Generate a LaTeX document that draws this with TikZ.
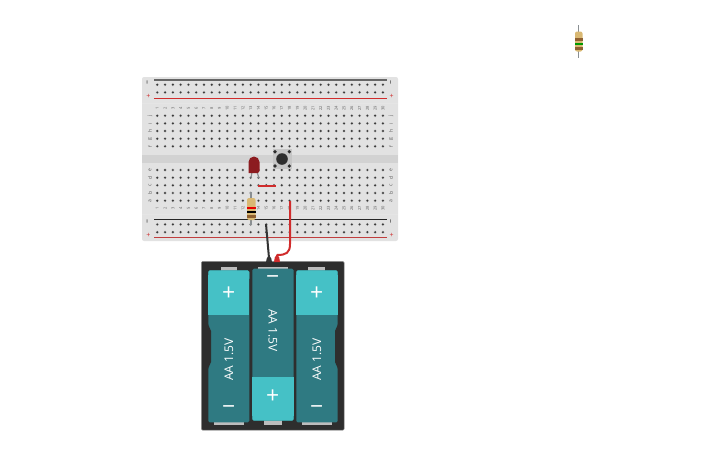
\documentclass[tikz,border=0pt]{standalone}
\usepackage{xcolor}
\usepackage{fontspec}
\setmainfont{Open Sans}
\definecolor{boardgray}{HTML}{E2E2E2}
\definecolor{gapgray}{HTML}{D2D2D2}
\definecolor{holedark}{HTML}{3A3A3A}
\definecolor{holering}{HTML}{C4C4C4}
\definecolor{railred}{HTML}{D02C2C}
\definecolor{cellteal}{HTML}{2F7A82}
\definecolor{capteal}{HTML}{45C1C6}
\definecolor{holderdark}{HTML}{2E2E2E}
\definecolor{metalgray}{HTML}{BDBDBD}
\definecolor{bodytan}{HTML}{D9B873}
\definecolor{leadgray}{HTML}{8A8F92}
\definecolor{ledred}{HTML}{8C1C20}
\tikzset{
  tinylabel/.style={text=black!65,font=\fontsize{4}{4}\selectfont,rotate=90,inner sep=0pt},
  celltext/.style={text=white,font=\fontsize{12}{12}\selectfont,inner sep=0pt},
  signtext/.style={text=white,font=\fontsize{23}{23}\selectfont,inner sep=0pt},
  railsign/.style={font=\fontsize{7}{7}\selectfont,inner sep=0pt},
  lead/.style={draw=leadgray,line width=1.2pt},
}
\begin{document}
\begin{tikzpicture}[x=1pt,y=-1pt]
\useasboundingbox (0,0) rectangle (725,453);

% breadboard
\fill[boardgray,rounded corners=2pt] (142,77) rectangle (398,241);
\fill[gapgray] (142,155) rectangle (398,163);
\draw[white!90!black,line width=0.6pt] (142,103) -- (398,103);
\draw[white!90!black,line width=0.6pt] (142,214) -- (398,214);
\draw[black!60,line width=1.4pt] (154,80) -- (387,80);
\draw[railred,line width=1.2pt] (154,98.5) -- (387,98.5);
\draw[black!85,line width=1pt] (154,219.5) -- (387,219.5);
\draw[railred!80!gray,line width=1pt] (154,237.7) -- (387,237.7);

\foreach \i in {0,...,29}{
  \foreach \y in {84.7,92.4,115.7,123.4,131,138.7,146.3,170,177.7,185.3,193,200.7,224.4,232.2}{
    \fill[holering] (157.3+\i*7.78,\y) circle (1.7pt);
    \fill[holedark] (157.3+\i*7.78,\y) circle (1.1pt);
  }
}
\foreach \i in {1,...,30}{
  \node[tinylabel] (numtop\i) at (149.5+\i*7.78,108.3) {\i};
  \node[tinylabel] (numbot\i) at (149.5+\i*7.78,208.3) {\i};
}
\foreach \y/\t in {115.7/j,123.4/i,131/h,138.7/g,146.3/f,170/e,177.7/d,185.3/c,193/b,200.7/a}{
  \node[tinylabel,font=\fontsize{5}{5}\selectfont] (left\t) at (150,\y) {\t};
  \node[tinylabel,font=\fontsize{5}{5}\selectfont] (right\t) at (391,\y) {\t};
}
\foreach \x/\n in {148.3/l,391.7/r}{
  \node[railsign,text=black,rotate=90] (minustop\n) at (\x,82) {−};
  \node[railsign,text=railred] (plustop\n) at (\x,96.5) {+};
  \node[railsign,text=black,rotate=90] (minusbot\n) at (\x,221) {−};
  \node[railsign,text=railred] (plusbot\n) at (\x,235) {+};
}

% led, button, jumper
\draw[lead] (252,172) -- (251,178);
\draw[lead] (257,172) -- (259,178);
\fill[ledred] (248.5,173) -- (248.5,162) arc (180:360:5.5) -- (259.5,171) -- (258,173) -- cycle;
\fill[gapgray!85!gray] (272.7,149.3) rectangle (292.3,169);
\foreach \x in {275,289.3}{
  \foreach \y in {151.7,166}{
    \fill[holderdark] (\x,\y) circle (1.8pt);
  }
}
\fill[holderdark] (282,159) circle (5.8pt);
\draw[railred,line width=2pt] (258,185.7) -- (275.5,185.7);

% resistor on the board
\draw[lead] (251,192) -- (251,225);
\fill[bodytan,rounded corners=2pt] (247,198) rectangle (255.5,220);
\fill[red!90!black] (247,206.5) rectangle (255.5,209);
\fill[black] (247,210.5) rectangle (255.5,213);
\fill[brown!75!black] (247,214.5) rectangle (255.5,217.5);

% wires
\draw[black!80,line width=2pt] (266,224) -- (269,258);
\draw[railred,line width=2pt] (290,201) -- (290,244) .. controls (290,253) and (286,255) .. (277,255);

% free resistor
\draw[lead] (578.7,25) -- (578.7,58);
\fill[bodytan,rounded corners=2pt] (575,31.5) rectangle (582.5,51.5);
\fill[brown!75!black] (575,38) rectangle (582.5,40.5);
\fill[green!60!black] (575,42.5) rectangle (582.5,45);
\fill[brown!75!black] (575,47) rectangle (582.5,49.5);

% battery holder
\filldraw[holderdark,draw=black!55,line width=0.5pt,rounded corners=1pt] (201.5,261.5) rectangle (344,430);
\fill[metalgray] (220.7,267) rectangle (237.3,271);
\fill[metalgray] (257.7,267) rectangle (287.7,269);
\fill[metalgray] (308.3,267) rectangle (325,271);
\fill[metalgray] (214,422) rectangle (244,424.5);
\fill[metalgray] (264.3,420) rectangle (281.7,424.5);
\fill[metalgray] (301.7,422) rectangle (332,424.5);

\fill[cellteal,rounded corners=1.5pt] (208.3,270.3) rectangle (249.3,422.3);
\fill[cellteal,rounded corners=1.5pt] (252.3,268.7) rectangle (293.7,420.7);
\fill[cellteal,rounded corners=1.5pt] (296.3,270.3) rectangle (337.7,422.3);
\fill[capteal,rounded corners=1.5pt] (208.3,270.3) rectangle (249.3,280);
\fill[capteal] (208.3,275) rectangle (249.3,315);
\fill[capteal,rounded corners=1.5pt] (252.3,410) rectangle (293.7,420.7);
\fill[capteal] (252.3,376.7) rectangle (293.7,416);
\fill[capteal,rounded corners=1.5pt] (296.3,270.3) rectangle (337.7,280);
\fill[capteal] (296.3,275) rectangle (337.7,315);

\fill[holderdark] (207.5,323) -- (211,331) -- (211,362) -- (207.5,370) -- cycle;
\fill[holderdark] (338.5,323) -- (335,331) -- (335,362) -- (338.5,370) -- cycle;

\node[celltext,rotate=90] (cellleft) at (228.8,359.5) {AA 1.5V};
\node[celltext,rotate=-90] (cellmid) at (272.8,330.5) {AA 1.5V};
\node[celltext,rotate=90] (cellright) at (316.8,359.5) {AA 1.5V};
\node[signtext] (plusleft) at (228.8,293.5) {+};
\node[signtext] (minusleft) at (228.8,410) {−};
\node[signtext] (plusmid) at (272.8,397) {+};
\node[signtext] (minusmid) at (272.8,280.5) {−};
\node[signtext] (plusright) at (316.8,293.5) {+};
\node[signtext] (minusright) at (316.8,410) {−};

% wire plugs
\fill[black!80] (269,255) .. controls (271,257) and (272,260) .. (272,262) -- (266,262) .. controls (266,260) and (267,257) .. (269,255);
\fill[railred] (277,254) .. controls (279,256) and (280,259) .. (280,262) -- (274,262) .. controls (274,259) and (275,256) .. (277,254);
\end{tikzpicture}
\end{document}
